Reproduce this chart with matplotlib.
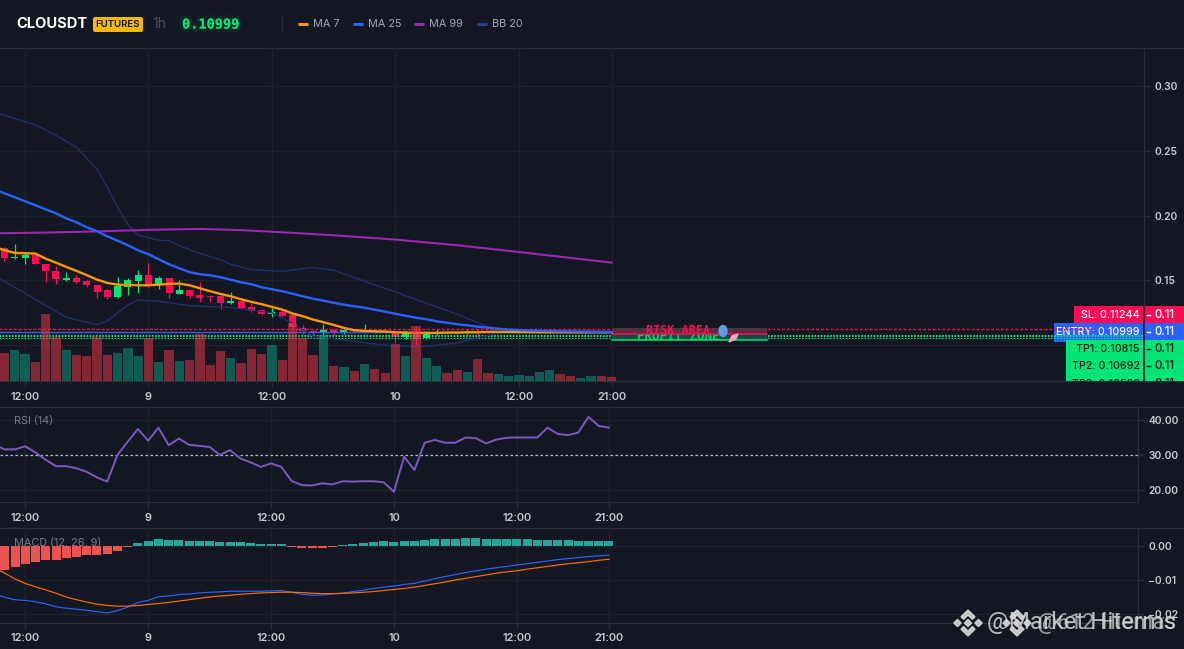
import numpy as np
import matplotlib
matplotlib.use('Agg')
import matplotlib.pyplot as plt
from matplotlib.patches import Rectangle, Polygon, Ellipse, FancyBboxPatch
import matplotlib.patheffects as pe

plt.rcParams['font.family'] = ['Inter', 'DejaVu Sans']

# hourly candles, first one is 10:00 on the 8th, hour 0 = 12:00
c_open = [.1754, .1672, .1674, .1695, .1631, .1577, .1507, .1520, .1494, .1468, .1425, .1373, .1450, .1494, .1541,
          .1468, .1517, .1396, .1425, .1386, .1381, .1378, .1324, .1340, .1293, .1270, .1239, .1255, .1232, .1136,
          .1113, .1100, .1116, .1103, .1111, .1106, .1107, .1105, .1100, .1064, .1103, .1054, .1097, .1100, .1099,
          .1096, .1106, .1100, .1097, .1098, .1098, .1098, .1099, .1099, .1101, .1099, .1098, .1099, .1100, .1100]
c_close = [.1674, .1677, .1695, .1628, .1574, .1510, .1515, .1489, .1466, .1412, .1371, .1456, .1502, .1541, .1468,
           .1517, .1402, .1425, .1381, .1368, .1373, .1324, .1340, .1288, .1263, .1242, .1255, .1224, .1142, .1111,
           .1100, .1116, .1103, .1116, .1108, .1110, .1104, .1102, .1064, .1106, .1049, .1095, .1101, .1097, .1096,
           .1099, .1099, .1098, .1100, .1100, .1100, .1100, .1100, .1101, .1099, .1098, .1100, .1100, .1099, .1099]
c_high = [.1759, .1780, .1723, .1708, .1631, .1610, .1564, .1541, .1505, .1468, .1432, .1525, .1523, .1579, .1633,
          .1533, .1517, .1502, .1435, .1486, .1386, .1378, .1409, .1340, .1324, .1278, .1286, .1270, .1232, .1154,
          .1121, .1162, .1126, .1129, .1120, .1162, .1120, .1115, .1100, .1116, .1147, .1111, .1129, .1110, .1108,
          .1129, .1127, .1106, .1108, .1106, .1105, .1104, .1103, .1110, .1104, .1103, .1104, .1103, .1103, .1102]
c_low = [.1651, .1664, .1631, .1628, .1489, .1474, .1494, .1479, .1450, .1366, .1358, .1366, .1389, .1404, .1448,
         .1435, .1366, .1394, .1366, .1335, .1335, .1281, .1317, .1288, .1257, .1232, .1219, .1224, .1126, .1090,
         .1077, .1075, .1077, .1085, .1100, .1095, .1098, .1095, .1018, .1051, .1003, .1049, .1082, .1090, .1088,
         .1090, .1069, .1092, .1092, .1094, .1093, .1095, .1095, .1096, .1096, .1095, .1091, .1096, .1097, .1097]
volume = [83, 92, 80, 56, 200, 133, 92, 77, 74, 133, 77, 83, 98, 74, 130, 56, 92, 59, 62, 140, 47, 89, 68, 53, 95, 80,
          107, 62, 175, 128, 78, 138, 45, 42, 30, 51, 36, 24, 111, 75, 165, 69, 45, 24, 33, 27, 66, 24, 21, 15, 18, 15,
          27, 33, 21, 15, 9, 15, 15, 12]

# moving averages, hour -3 to 57
ma7 = [.1760, .1734, .1713, .1710, .1708, .1669, .1638, .1605, .1574, .1541, .1507, .1481, .1468, .1466, .1463, .1463,
       .1468, .1474, .1476, .1463, .1440, .1417, .1396, .1378, .1355, .1335, .1317, .1296, .1275, .1245, .1224, .1198,
       .1178, .1157, .1134, .1116, .1111, .1108, .1106, .1100, .1098, .1095, .1095, .1095, .1098, .1098, .1100, .1100,
       .1103, .1103, .1103, .1102, .1102, .1101, .1101, .1101, .1100, .1100, .1100, .1100, .1100]
ma25 = [.2204, .2173, .2143, .2112, .2081, .2050, .2019, .1980, .1950, .1911, .1880, .1841, .1807, .1772, .1733, .1703,
        .1664, .1625, .1594, .1564, .1548, .1540, .1525, .1506, .1486, .1471, .1448, .1432, .1417, .1398, .1378, .1359,
        .1344, .1328, .1313, .1301, .1290, .1274, .1259, .1243, .1228, .1212, .1201, .1185, .1174, .1162, .1154, .1143,
        .1135, .1127, .1121, .1117, .1114, .1112, .1110, .1108, .1107, .1106, .1104, .1103, .1103]
ma99_h = [-3, 2, 7, 12, 17, 21, 26, 30, 36, 42, 48, 57]
ma99 = [.1864, .1870, .1879, .1891, .1898, .1889, .1868, .1849, .1816, .1772, .1720, .1638]
bb_up_h = [-3, 1, 3, 5, 7, 8, 9, 10, 11, 13, 14, 15, 17, 19, 20, 22, 25, 28, 30, 33, 36, 38, 42, 45, 46, 50, 57]
bb_up = [.2799, .2702, .2621, .2529, .2359, .2220, .2065, .1934, .1849, .1811, .1807, .1768, .1710, .1660, .1625,
         .1583, .1571, .1600, .1579, .1494, .1411, .1353, .1239, .1143, .1127, .1112, .1100]
bb_low_h = [-3, 1, 4, 7, 8, 10, 11, 13, 16, 20, 24, 26, 28, 31, 36, 39, 42, 44, 46, 57]
bb_low = [.1540, .1355, .1216, .1158, .1188, .1311, .1350, .1340, .1305, .1291, .1251, .1170, .1069, .1039, .0992,
          .0992, .1018, .1058, .1093, .1102]

sl_price = 0.11244
entry_price = 0.10999
tp_prices = [0.10815, 0.10692, 0.10569]

rsi = [32.9, 31.6, 31.6, 32.5, 30.7, 28.6, 26.8, 26.8, 26.2, 25.2, 23.6, 22.4, 30.0, 33.8, 37.4, 34.1, 37.8, 32.8, 34.7,
       32.9, 32.6, 32.3, 30.0, 31.4, 29.0, 27.9, 26.6, 27.6, 26.6, 22.6, 21.4, 21.3, 21.9, 21.6, 22.5, 22.4, 22.5, 22.5,
       22.2, 19.5, 29.5, 25.7, 33.5, 34.3, 33.5, 33.5, 35.0, 34.8, 33.3, 34.4, 34.9, 35.0, 35.0, 35.0, 37.8, 36.0, 35.7,
       36.4, 40.9, 38.3, 37.8]

macd_hist = [-.00706, -.00618, -.00529, -.00461, -.00412, -.00412, -.00353, -.00324, -.00265, -.00265, -.00235, -.00147,
             -.0002, .00088, .00147, .00206, .00176, .00176, .00147, .00147, .00147, .00118, .00118, .00118, .00088,
             .00059, .00059, .00059, -.0002, -.0005, -.0005, -.0006, -.0002, .0003, .0006, .0009, .0012, .0015, .0012,
             .0015, .0015, .0018, .0021, .0021, .0021, .0024, .0024, .0021, .0021, .0021, .0021, .0021, .0018, .0018,
             .0018, .0018, .0015, .0015, .0015, .0015]
macd_line = [-.0142, -.0151, -.0158, -.0160, -.0164, -.0170, -.0179, -.0183, -.0186, -.0189, -.0193, -.0197, -.0190,
             -.0180, -.0166, -.0160, -.0149, -.0147, -.0143, -.0141, -.0138, -.0136, -.0135, -.0133, -.0133, -.0133,
             -.0133, -.0132, -.0131, -.0136, -.0142, -.0145, -.0144, -.0141, -.0139, -.0134, -.0130, -.0125, -.0121,
             -.0118, -.0113, -.0110, -.0103, -.0096, -.0090, -.0084, -.0078, -.0073, -.0068, -.0064, -.0060, -.0056,
             -.0052, -.0048, -.0044, -.0040, -.0037, -.0034, -.0031, -.0029, -.0027]
macd_signal = [-.0066, -.0080, -.0097, -.0110, -.0120, -.0129, -.0139, -.0150, -.0158, -.0165, -.0171, -.0175, -.0177,
               -.0177, -.0175, -.0172, -.0169, -.0166, -.0162, -.0158, -.0154, -.0150, -.0147, -.0145, -.0142, -.0140,
               -.0138, -.0137, -.0136, -.0136, -.0137, -.0139, -.0140, -.0140, -.0139, -.0138, -.0136, -.0134, -.0131,
               -.0128, -.0125, -.0121, -.0116, -.0111, -.0106, -.0100, -.0095, -.0090, -.0085, -.0080, -.0076, -.0073,
               -.0068, -.0064, -.0060, -.0056, -.0052, -.0049, -.0046, -.0042, -.0039]

time_ticks = [0, 12, 24, 36, 48, 57]
time_labels = ['12:00', '9', '12:00', '10', '12:00', '21:00']
price_ticks = [.10, .15, .20, .25, .30]
price_labels = ['', '0.15', '0.20', '0.25', '0.30']
rsi_ticks = [20, 30, 40]
rsi_labels = ['20.00', '30.00', '40.00']
macd_ticks = [0, -.01, -.02]
macd_labels = ['0.00', '\u22120.01', '\u22120.02']

BG = '#131722'
GRID = '#1e222d'
EDGE = '#2a2e39'
TICK = '#c8cbd2'
RED = '#ff0a54'
GREEN = '#00e676'
ORANGE = '#ff9800'
BLUE = '#2962ff'
PURPLE = '#9c27b0'
NAVY = '#1f3170'
TAG_DARK = '#0b1a14'

W, H = 1184, 649
fig = plt.figure(figsize=(W / 100, H / 100), dpi=100, facecolor=BG)


def pane(left, right, top, bottom, xpad=4):
    a = fig.add_axes([left / W, 1 - bottom / H, (right - left) / W, (bottom - top) / H], facecolor='none')
    for s in ['top', 'left']:
        a.spines[s].set_visible(False)
    for s in ['right', 'bottom']:
        a.spines[s].set_color(EDGE)
    a.yaxis.tick_right()
    a.set_axisbelow(True)
    a.grid(True, color=GRID, linewidth=1)
    a.tick_params(axis='both', colors=TICK, length=4, width=1, color=EDGE)
    a.tick_params(axis='y', labelsize=7.4)
    a.tick_params(axis='x', labelsize=7.9, pad=xpad)
    a.set_xticks(time_ticks)
    a.set_xticklabels(time_labels, fontweight='semibold')
    return a


# pixel layer behind everything, for the header and the separators
base = fig.add_axes([0, 0, 1, 1], facecolor=BG, zorder=-1)
base.set_xlim(0, W)
base.set_ylim(H, 0)
base.axis('off')
px = base.transData
for y in [48, 381, 407, 528]:
    base.plot([0, W], [y, y], color=EDGE, lw=1)

base.text(16, 24.5, 'CLOUSDT', color='white', fontsize=10.6, fontweight='bold', va='center')
base.add_patch(FancyBboxPatch((94, 18), 48, 13, boxstyle='round,pad=1,rounding_size=2', color='#f0b90b', ec='none'))
base.text(118, 24.8, 'FUTURES', color='#131313', fontsize=6.9, fontweight='semibold', ha='center', va='center')
base.text(152, 24.5, '1h', color='#4a5063', fontsize=10, va='center')
base.text(182, 24.5, '0.10999', color=GREEN, fontsize=9.8, fontweight='bold', family='DejaVu Sans Mono', va='center',
          path_effects=[pe.withStroke(linewidth=5, foreground=GREEN, alpha=0.07), pe.Normal()])
base.plot([282, 282], [17, 31], color=EDGE, lw=1)
for x0, col, name in [(298, ORANGE, 'MA 7'), (353, BLUE, 'MA 25'), (414, PURPLE, 'MA 99'), (477, '#283f8f', 'BB 20')]:
    base.plot([x0, x0 + 10], [24, 24], color=col, lw=2.2, solid_capstyle='butt')
    base.text(x0 + 15, 24, name, color='#a3a6af', fontsize=7.8, va='center')

# main pane
ax = pane(0, 1144, 48, 381)
ax.set_xlim(-2.43, 108.75)
ax.set_ylim(.0724, .3295)
ax.set_yticks(price_ticks)
ax.set_yticklabels(price_labels, fontweight='semibold')

hours = np.arange(-2, 58)
is_up = np.array(c_close) >= np.array(c_open)
candle_colors = [GREEN if u else RED for u in is_up]
vol_colors = ['#0ba188' if u else '#f73546' for u in is_up]

ax.vlines(hours, c_low, c_high, color=candle_colors, lw=0.9, zorder=2)
body_low = np.minimum(c_open, c_close)
body_h = np.maximum(np.abs(np.array(c_close) - np.array(c_open)), .0009)
ax.bar(hours, body_h, bottom=body_low, width=0.68, color=candle_colors, zorder=2.1)


def tag(x0, y0, y1, color, fg, rows):
    # price label on the right, two boxes split at the axis line
    ax.add_patch(Rectangle((x0, y0), 1143 - x0, y1 - y0, color=color, ec='none', transform=px, clip_on=False, zorder=1))
    ax.add_patch(Rectangle((1145, y0), W - 1145, y1 - y0, color=color, ec='none', transform=px, clip_on=False, zorder=1))
    clip = Rectangle((x0, y0), W - x0, y1 - y0, transform=px)
    for text, y_text in rows:
        for t_x, t, size in [(1139.5, text, 7.7), (1174, '0.11', 8.3)]:
            lab = ax.text(t_x, y_text, t, color=fg, fontsize=size, fontweight='medium', ha='right', va='center',
                          transform=px, clip_on=True, zorder=1.5)
            lab.set_clip_path(clip)
        dash = ax.plot([1147, 1150], [y_text, y_text], color=fg, lw=1, transform=px, clip_on=True, zorder=1.5)[0]
        dash.set_clip_path(clip)


tag(1074, 306, 324.5, RED, 'white', [('SL: 0.11244', 315)])
tag(1054, 323, 341.5, BLUE, 'white', [('ENTRY: 0.10999', 332)])
tag(1066, 340, 381, GREEN, TAG_DARK, [('TP1: 0.10815', 348.5), ('TP2: 0.10692', 366), ('TP3: 0.10569', 384)])

# trade levels, run through to the axis
ax.plot([-3, 104], [sl_price, sl_price], color=RED, lw=1, ls=(0, (2, 1.5)), zorder=3)
for tp in tp_prices:
    ax.plot([-3, 108.7], [tp, tp], color=GREEN, lw=0.8, ls=(0, (1.4, 1.4)), zorder=3)
ax.plot([-3, 57], [entry_price, entry_price], color=BLUE, lw=1, zorder=3)

# risk and profit zones
ax.add_patch(Rectangle((57, .1044), 15.1, .0043, color='#0f4d42', ec='none', zorder=3.1))
ax.text(63.5, .1071, 'PROFIT ZONE', color=GREEN, fontsize=9, fontweight='bold', family='DejaVu Sans Mono',
        ha='center', va='center', zorder=3.15, alpha=0.85)
ax.add_patch(Rectangle((57, .1087), 15.1, .0044, color='#5b2e3d', ec='none', zorder=3.2))
ax.plot([57, 72.1], [.1087, .1087], color=RED, lw=1.1, zorder=3.25)
ax.plot([57, 72.1], [.1044, .1044], color=GREEN, lw=1.1, zorder=3.25)
ax.text(63.5, .1114, 'RISK AREA', color=RED, fontsize=8.5, fontweight='bold', family='DejaVu Sans Mono', ha='center',
        va='center', zorder=3.4)
ax.add_patch(Ellipse((723, 331), 8, 11, color='#5b9de0', transform=px, zorder=3.5))
ax.add_patch(Polygon([[729, 342], [732, 336], [738, 334], [736, 339]], color='#f7a8c4', transform=px, zorder=3.5))

ax.plot(np.arange(-3, 58), ma7, color=ORANGE, lw=1.7, zorder=4)
ax.plot(np.arange(-3, 58), ma25, color=BLUE, lw=1.7, zorder=4.1)
ax.plot(ma99_h, ma99, color=PURPLE, lw=1.5, zorder=4)
ax.plot(bb_up_h, bb_up, color=NAVY, lw=0.9, zorder=3.5)
ax.plot(bb_low_h, bb_low, color=NAVY, lw=0.9, zorder=3.5)

# volume sits over the candles and is half see through
vol = fig.add_axes(ax.get_position(), facecolor='none')
vol.set_xlim(ax.get_xlim())
vol.set_ylim(0, 999)
vol.axis('off')
vol.bar(hours, volume, width=0.9, color=vol_colors, alpha=0.5)

# RSI pane
ax_r = pane(0, 1138, 407, 502)
ax_r.set_xlim(-2.47, 108.66)
ax_r.set_ylim(16.57, 43.71)
ax_r.set_yticks(rsi_ticks)
ax_r.set_yticklabels(rsi_labels, fontweight='semibold')
ax_r.axhline(30, color='#b2b5be', lw=0.9, ls=(0, (2, 2)), zorder=1.5)
ax_r.plot(np.arange(-3, 58), rsi, color='#7e57c2', lw=1.4, zorder=3)
ax_r.text(14, 421, 'RSI (14)', color='#787b86', fontsize=7.8, va='center', transform=px)

# MACD pane
ax_m = pane(0, 1138, 528, 623, xpad=3)
ax_m.set_xlim(-2.47, 108.66)
ax_m.set_ylim(-.02265, .0053)
ax_m.set_yticks(macd_ticks)
ax_m.set_yticklabels(macd_labels, fontweight='semibold')
hist_colors = ['#26a69a' if v >= 0 else '#ef5350' for v in macd_hist]
ax_m.bar(hours, macd_hist, width=0.88, color=hist_colors, zorder=2)
ax_m.plot(np.arange(-3, 58), macd_line, color=BLUE, lw=0.85, zorder=3)
ax_m.plot(np.arange(-3, 58), macd_signal, color='#ff6d00', lw=0.85, zorder=3.1)
ax_m.text(14, 542, 'MACD (12, 26, 9)', color='#787b86', fontsize=7.8, va='center', transform=px, zorder=4)

# watermark, two copies that overlap
top = fig.add_axes([0, 0, 1, 1], facecolor='none', zorder=10)
top.set_xlim(0, W)
top.set_ylim(H, 0)
top.axis('off')
mark = '#d8d8d8'


def logo(cx, cy, r):
    # exchange logo made of small diamonds and chevrons
    s = r / 13
    for dx, dy in [(0, 0), (-10.5, 0), (10.5, 0)]:
        size = 3.6 * s
        top.add_patch(Polygon([[cx + dx * s - size, cy + dy], [cx + dx * s, cy - size], [cx + dx * s + size, cy],
                               [cx + dx * s, cy + size]], color=mark, alpha=0.9))
    for sign in [-1, 1]:
        chev = [[-7, -6.2], [0, -13], [7, -6.2], [4.4, -3.6], [0, -8], [-4.4, -3.6]]
        top.add_patch(Polygon([[cx + a * s, cy + sign * b * s * -1] for a, b in chev], color=mark, alpha=0.9))


logo(968, 623, 13)
logo(1017, 623, 13)
top.text(987, 623, '@Market Hiterms', color=mark, alpha=0.85, fontsize=17.5, va='center', family='Roboto')
top.text(1037, 623, '@612 Hiemas', color=mark, alpha=0.7, fontsize=16, va='center', family='Roboto')

fig.savefig('out.png', dpi=100, facecolor=BG)
